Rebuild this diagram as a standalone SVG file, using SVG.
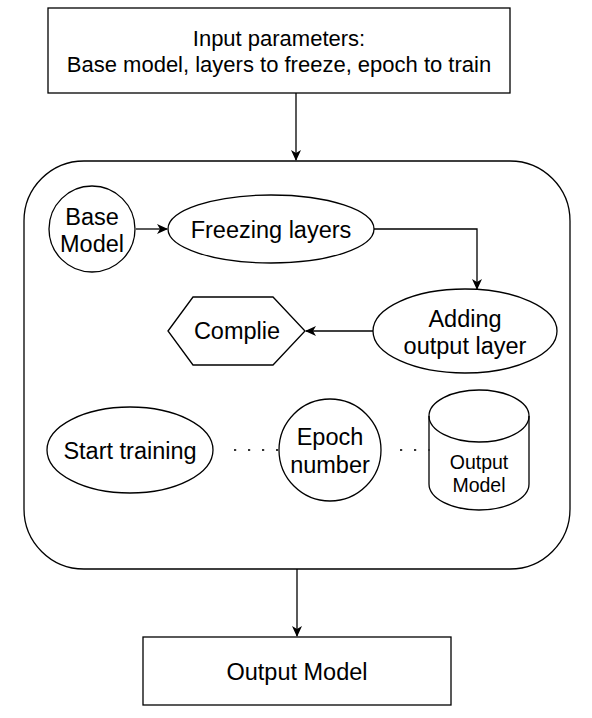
<svg xmlns="http://www.w3.org/2000/svg" width="592" height="718" viewBox="0 0 592 718">
<style>
.s{fill:#fff;stroke:#000;stroke-width:1.3}
.t{font-family:"Liberation Sans",Arial,sans-serif;font-size:23.5px;fill:#000;text-anchor:middle}
.c{fill:none;stroke:#000;stroke-width:1.3}
.d{fill:none;stroke:#333;stroke-width:2.2;stroke-dasharray:2.2 11.8}
</style>
<defs>
<marker id="a" viewBox="0 0 11 10" refX="10" refY="5" markerWidth="11" markerHeight="10" markerUnits="userSpaceOnUse" orient="auto">
<path d="M0,0 L11,5 L0,10 L3,5 Z" fill="#000"/>
</marker>
</defs>
<rect width="592" height="718" fill="#fff"/>
<g id="input"><rect class="s" x="48" y="8" width="462" height="85"/>
<text class="t" style="font-size:22px" x="279" y="46">Input parameters:</text>
<text class="t" style="font-size:22px" x="279" y="72">Base model, layers to freeze, epoch to train</text></g>
<g id="container"><rect class="s" x="24" y="161" width="546" height="408" rx="60" ry="60"/></g>
<g id="base"><circle class="s" cx="92" cy="229" r="43"/>
<text class="t" x="92" y="225">Base</text><text class="t" x="92" y="252">Model</text></g>
<g id="freeze"><ellipse class="s" cx="271" cy="229" rx="103" ry="34"/>
<text class="t" x="271" y="238">Freezing layers</text></g>
<g id="adding"><ellipse class="s" cx="465" cy="331" rx="92" ry="42"/>
<text class="t" x="465" y="327">Adding</text><text class="t" x="465" y="354">output layer</text></g>
<g id="compile"><polygon class="s" points="168,331 193,297 273,297 305,331 273,365 193,365"/>
<text class="t" x="237" y="339">Complie</text></g>
<g id="start"><ellipse class="s" cx="130" cy="450" rx="83" ry="43"/>
<text class="t" x="130" y="459">Start training</text></g>
<g id="epoch"><circle class="s" cx="330" cy="450" r="51"/>
<text class="t" x="330" y="445">Epoch</text><text class="t" x="330" y="473">number</text></g>
<g id="cyl"><path class="s" d="M429,416 A50,26 0 0 1 529,416 L529,484 A50,26 0 0 1 429,484 Z"/>
<path class="c" d="M429,416 A50,26 0 0 0 529,416"/>
<text class="t" style="font-size:19.5px" x="479" y="469">Output</text><text class="t" style="font-size:19.5px" x="479" y="492">Model</text></g>
<g id="outbox"><rect class="s" x="143" y="637" width="308" height="68"/>
<text class="t" x="297" y="680">Output Model</text></g>
<g id="connectors">
<path class="c" d="M296,93 L296,160" marker-end="url(#a)"/>
<path class="c" d="M136,229 L167,229" marker-end="url(#a)"/>
<path class="c" d="M374,229 L477,229 L477,289" marker-end="url(#a)"/>
<path class="c" d="M373,331 L306,331" marker-end="url(#a)"/>
<path class="c" d="M297,569 L297,636" marker-end="url(#a)"/>
<path class="d" d="M234,450 L280,450"/>
<path class="d" d="M400,450 L430,450"/>
</g>
</svg>
